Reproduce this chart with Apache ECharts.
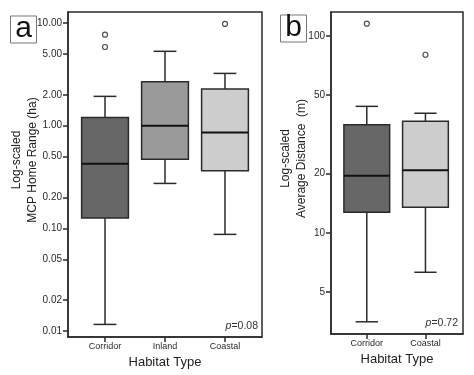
<!DOCTYPE html>
<html>
<head>
<meta charset="utf-8">
<script src="https://cdn.jsdelivr.net/npm/echarts@6/dist/echarts.min.js"></script>
<style>
  html, body { margin: 0; padding: 0; background: #fff; }
  #main { width: 474px; height: 375px; }
</style>
</head>
<body>
<div id="main"></div>
<script>
var myChart = echarts.init(document.getElementById('main'));

// panel a: MCP home range (ha), [min, Q1, median, Q3, max]
var habitatA = ['Corridor', 'Inland', 'Coastal'];
var homeRangeBoxes = [
    [0.0116, 0.126, 0.427, 1.20, 1.93],
    [0.274, 0.47, 1.00, 2.68, 5.3],
    [0.0874, 0.365, 0.86, 2.28, 3.23]
];
var homeRangeOutliers = [[0, 7.7], [0, 5.84], [2, 9.8]];
var ticksA = [0.01, 0.02, 0.05, 0.1, 0.2, 0.5, 1, 2, 5, 10];

// panel b: average distance (m)
var habitatB = ['Corridor', 'Coastal'];
var distanceBoxes = [
    [3.53, 12.7, 19.5, 35.4, 43.9],
    [6.3, 13.5, 20.8, 36.9, 40.5]
];
var distanceOutliers = [[0, 115.5], [1, 80.3]];
var ticksB = [5, 10, 20, 50, 100];

var pValues = ['0.08', '0.72'];

var habitatColor = { Corridor: '#676767', Inland: '#9a9a9a', Coastal: '#cdcdcd' };
var ink = '#2b2b2b';
var font = 'Liberation Sans, Arial, sans-serif';

function boxData(boxes, names) {
    return boxes.map(function (b, i) {
        return {
            value: [i + 1].concat(b),
            itemStyle: { color: habitatColor[names[i]] }
        };
    });
}

function outlierData(list) {
    return list.map(function (o) { return [o[0] + 1, o[1]]; });
}

function renderBox(params, api) {
    var x = api.value(0);
    var lo = api.coord([x, api.value(1)]);
    var q1 = api.coord([x, api.value(2)]);
    var md = api.coord([x, api.value(3)]);
    var q3 = api.coord([x, api.value(4)]);
    var hi = api.coord([x, api.value(5)]);
    var left = api.coord([x - 0.39, api.value(3)])[0];
    var right = api.coord([x + 0.39, api.value(3)])[0];
    var capL = api.coord([x - 0.19, api.value(3)])[0];
    var capR = api.coord([x + 0.19, api.value(3)])[0];
    var cx = md[0];
    var line = { stroke: ink, lineWidth: 1.5 };
    return {
        type: 'group',
        children: [
            { type: 'line', shape: { x1: cx, y1: hi[1], x2: cx, y2: q3[1] }, style: line },
            { type: 'line', shape: { x1: cx, y1: q1[1], x2: cx, y2: lo[1] }, style: line },
            { type: 'line', shape: { x1: capL, y1: hi[1], x2: capR, y2: hi[1] }, style: line },
            { type: 'line', shape: { x1: capL, y1: lo[1], x2: capR, y2: lo[1] }, style: line },
            {
                type: 'rect',
                shape: { x: left, y: q3[1], width: right - left, height: q1[1] - q3[1] },
                style: { fill: api.visual('color'), stroke: ink, lineWidth: 1.5 }
            },
            { type: 'line', shape: { x1: left, y1: md[1], x2: right, y2: md[1] }, style: { stroke: '#111', lineWidth: 2 } }
        ]
    };
}

function xAxisFor(idx, names, min, max) {
    var vals = names.map(function (n, i) { return i + 1; });
    return {
        gridIndex: idx,
        type: 'value',
        min: min,
        max: max,
        axisLine: { show: true, lineStyle: { color: ink, width: 1.5 } },
        axisTick: { show: true, customValues: vals, length: 5, lineStyle: { color: ink, width: 1.5 } },
        axisLabel: {
            customValues: vals,
            formatter: function (v) { return names[Math.round(v) - 1]; },
            fontFamily: font, fontSize: 9, color: '#2a2a2a', margin: 5
        },
        splitLine: { show: false },
        name: 'Habitat Type',
        nameLocation: 'middle',
        nameGap: 14,
        nameTextStyle: { fontFamily: font, fontSize: 13, color: '#222' }
    };
}

function yAxisFor(idx, ticks, min, max, fmt, name, gap) {
    return {
        gridIndex: idx,
        type: 'log',
        logBase: 10,
        min: min,
        max: max,
        axisLine: { show: true, lineStyle: { color: ink, width: 1.5 } },
        axisTick: { show: true, customValues: ticks, length: 5, lineStyle: { color: ink, width: 1.5 } },
        axisLabel: {
            customValues: ticks,
            formatter: fmt,
            fontFamily: font, fontSize: 10, color: '#2a2a2a', margin: 6
        },
        splitLine: { show: false },
        minorTick: { show: false },
        name: name,
        nameLocation: 'middle',
        nameRotate: 90,
        nameGap: gap,
        nameMoveOverlap: false,
        nameTextStyle: { fontFamily: font, fontSize: 12, lineHeight: 16, color: '#222', padding: [0, 0, 0, 29] }
    };
}

function panelTag(letter, x, y) {
    return {
        type: 'group', left: x, top: y,
        children: [
            { type: 'rect', shape: { x: 0, y: 0, width: 26, height: 27 }, style: { fill: '#fff', stroke: '#777', lineWidth: 1 } },
            { type: 'text', x: 13, y: 13, style: { text: letter, font: '30px ' + font, fill: '#111', align: 'center', verticalAlign: 'middle' } }
        ]
    };
}

function pLabel(p, right, top) {
    return {
        type: 'text', right: right, top: top,
        style: {
            text: '{i|p}=' + p,
            font: '10.5px ' + font,
            fill: '#333',
            rich: { i: { fontStyle: 'italic', fontSize: 10.5, fontFamily: font, fill: '#333' } }
        }
    };
}

var option = {
    backgroundColor: '#ffffff',
    animation: false,
    grid: [
        { left: 68, top: 12, width: 194, height: 325, show: true, borderColor: ink, borderWidth: 1.5, outerBoundsMode: 'none' },
        { left: 331, top: 12, width: 132, height: 322, show: true, borderColor: ink, borderWidth: 1.5, outerBoundsMode: 'none' }
    ],
    xAxis: [
        xAxisFor(0, habitatA, 0.383, 3.617),
        xAxisFor(1, habitatB, 0.39, 2.64)
    ],
    yAxis: [
        yAxisFor(0, ticksA, 0.00875, 12.8, function (v) { return v.toFixed(2); }, 'Log-scaled\nMCP Home Range (ha)', 27),
        yAxisFor(1, ticksB, 3.06, 132.4, function (v) { return String(v); }, 'Log-scaled\nAverage Distance  (m)', 21)
    ],
    graphic: [
        panelTag('a', 10, 14),
        panelTag('b', 280, 13),
        pLabel(pValues[0], 216, 321),
        pLabel(pValues[1], 16, 318)
    ],
    series: [
        {
            type: 'custom', xAxisIndex: 0, yAxisIndex: 0,
            renderItem: renderBox,
            encode: { x: 0, y: [1, 2, 3, 4, 5] },
            data: boxData(homeRangeBoxes, habitatA)
        },
        {
            type: 'scatter', xAxisIndex: 0, yAxisIndex: 0,
            symbol: 'circle', symbolSize: 5,
            itemStyle: { color: '#fff', borderColor: '#222', borderWidth: 1.2 },
            data: outlierData(homeRangeOutliers)
        },
        {
            type: 'custom', xAxisIndex: 1, yAxisIndex: 1,
            renderItem: renderBox,
            encode: { x: 0, y: [1, 2, 3, 4, 5] },
            data: boxData(distanceBoxes, habitatB)
        },
        {
            type: 'scatter', xAxisIndex: 1, yAxisIndex: 1,
            symbol: 'circle', symbolSize: 5,
            itemStyle: { color: '#fff', borderColor: '#222', borderWidth: 1.2 },
            data: outlierData(distanceOutliers)
        }
    ]
};
myChart.setOption(option);
</script>
</body>
</html>
